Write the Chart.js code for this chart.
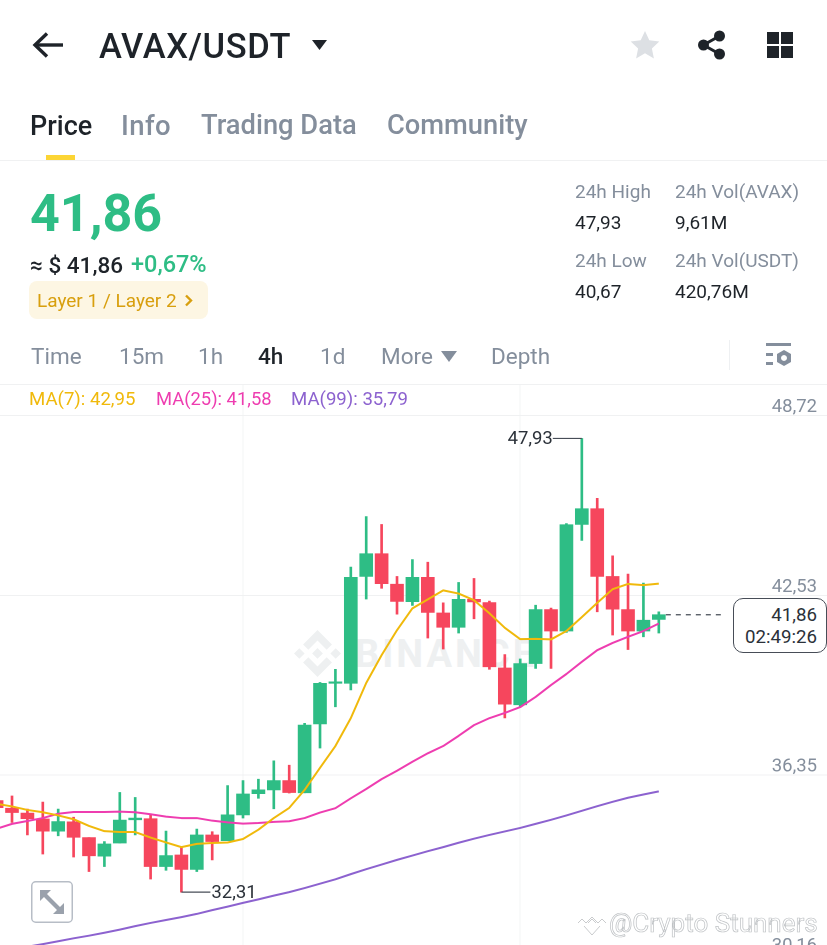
<!DOCTYPE html>
<html><head><meta charset="utf-8"><title>AVAX/USDT</title>
<script src="https://cdn.jsdelivr.net/npm/chart.js@4"></script>
<style>
html,body{margin:0;padding:0;background:#fff;overflow:hidden}
#page{position:relative;width:827px;height:945px;overflow:hidden;background:#fff;font-family:"Roboto",sans-serif;color:#1E2329}
#page span.t{position:absolute;white-space:nowrap;line-height:1;transform:translateY(-50%)}
.g{color:#848E9C}.up{color:#2EBD85}
canvas{position:absolute;left:0;top:0}
.abs{position:absolute}
</style></head><body>
<div id="page">
<!-- watermark under the chart -->
<svg class="abs" style="left:294px;top:630px" width="47" height="47" viewBox="0 0 126.61 126.61" fill="#EEF0F1"><path d="M38.73 53.2l24.59-24.58 24.6 24.6 14.3-14.31L63.32 0 24.42 38.9zM0 63.31l14.3-14.31 14.31 14.31-14.31 14.3zM38.73 73.41l24.59 24.59 24.6-24.6 14.31 14.29-38.9 38.91-38.91-38.88v-.03zM98.04 63.31l14.3-14.31 14.31 14.3-14.31 14.32zM77.83 63.3L63.32 48.78 52.59 59.51l-1.24 1.23-2.54 2.54 14.51 14.5 14.5-14.52z"/></svg>
<span class="t" style="left:355px;top:654px;font-size:38px;font-weight:700;letter-spacing:3px;color:#EEF0F1">BINANCE</span>

<canvas id="c" width="827" height="1000"></canvas>

<!-- header -->
<svg class="abs" style="left:32px;top:30px" width="32" height="30" viewBox="0 0 32 30" fill="none" stroke="#1E2329" stroke-width="3.4"><path d="M31 15H3"/><path d="M15 3.5L3 15l12 11.5"/></svg>
<span class="t" style="left:99px;top:46px;font-size:34.5px;font-weight:500;letter-spacing:.6px">AVAX/USDT</span>
<svg class="abs" style="left:312px;top:40px" width="15" height="10" viewBox="0 0 15 10"><path d="M0 0H15L7.5 10z" fill="#1E2329"/></svg>
<svg class="abs" style="left:630px;top:30px" width="30" height="30" viewBox="0 0 30 30"><path d="M15 1l4.3 9.3 10 1.2-7.4 6.9 2 10L15 23.3 6.100 28.400l2-10L.7 11.500l10-1.200z" fill="#DDE0E4"/></svg>
<svg class="abs" style="left:697px;top:30px" width="30" height="30" viewBox="0 0 30 30"><g fill="#1E2329"><circle cx="22.500" cy="6" r="5.500"/><circle cx="6.500" cy="15" r="5.500"/><circle cx="22.500" cy="24" r="5.500"/></g><path d="M22.500 6L6.500 15l16 9" stroke="#1E2329" stroke-width="3" fill="none"/></svg>
<svg class="abs" style="left:767px;top:32px" width="26" height="26" viewBox="0 0 26 26" fill="#1E2329"><rect width="12" height="12"/><rect x="14" width="12" height="12"/><rect y="14" width="12" height="12"/><rect x="14" y="14" width="12" height="12"/></svg>

<span class="t" style="left:30px;top:126px;font-size:27px;font-weight:500">Price</span>
<span class="t g" style="left:121px;top:126px;font-size:27.5px;font-weight:500;letter-spacing:.4px">Info</span>
<span class="t g" style="left:201px;top:126px;font-size:27.3px;font-weight:500">Trading Data</span>
<span class="t g" style="left:387px;top:126px;font-size:27.3px;font-weight:500">Community</span>
<div class="abs" style="left:46px;top:155px;width:29px;height:5px;background:#FCD535"></div>
<div class="abs" style="left:0;top:160px;width:827px;height:1px;background:#F0F1F2"></div>

<span class="t up" style="left:30px;top:214px;font-size:52px;font-weight:700">41,86</span>
<span class="t" style="left:30px;top:265px;font-size:22.5px;font-weight:500">≈ $ 41,86</span>
<span class="t up" style="left:131px;top:265px;font-size:23.5px;font-weight:500">+0,67%</span>
<div class="abs" style="left:29px;top:281px;width:179px;height:38px;border-radius:8px;background:#FDF6E3"></div>
<span class="t" style="left:37px;top:300px;font-size:19px;color:#D89F0E">Layer 1 / Layer 2</span>
<svg class="abs" style="left:184px;top:294px" width="9" height="13" viewBox="0 0 9 13" fill="none" stroke="#D89F0E" stroke-width="2.400"><path d="M2 1.500l5 5-5 5"/></svg>

<span class="t g" style="left:575px;top:191px;font-size:19px">24h High</span>
<span class="t" style="left:575px;top:222px;font-size:19px">47,93</span>
<span class="t g" style="left:575px;top:260px;font-size:19px">24h Low</span>
<span class="t" style="left:575px;top:291px;font-size:19px">40,67</span>
<span class="t g" style="left:675px;top:191px;font-size:19px">24h Vol(AVAX)</span>
<span class="t" style="left:675px;top:222px;font-size:19px">9,61M</span>
<span class="t g" style="left:675px;top:260px;font-size:19px">24h Vol(USDT)</span>
<span class="t" style="left:675px;top:291px;font-size:19px">420,76M</span>

<span class="t g" style="left:31px;top:356px;font-size:22.500px">Time</span>
<span class="t g" style="left:119px;top:356px;font-size:22.500px">15m</span>
<span class="t g" style="left:198px;top:356px;font-size:22.500px">1h</span>
<span class="t" style="left:258px;top:356px;font-size:22.500px;font-weight:500">4h</span>
<span class="t g" style="left:320px;top:356px;font-size:22.500px">1d</span>
<span class="t g" style="left:381px;top:356px;font-size:22.500px">More</span>
<svg class="abs" style="left:441px;top:351px" width="16" height="11" viewBox="0 0 16 11"><path d="M0 0H16L8 11z" fill="#848E9C"/></svg>
<span class="t g" style="left:491px;top:356px;font-size:22.500px">Depth</span>
<div class="abs" style="left:729px;top:340px;width:1px;height:30px;background:#EEF0F2"></div>
<svg class="abs" style="left:766px;top:343px" width="26" height="26" viewBox="0 0 26 26" fill="#848E9C"><rect width="25" height="3"/><rect y="10" width="7" height="3"/><rect y="19" width="7" height="3"/><path fill-rule="evenodd" d="M18 7l7 4v8l-7 4-7-4v-8zM18 12a3 3 0 1 0 .01 0z"/></svg>
<div class="abs" style="left:0;top:384px;width:827px;height:1px;background:#F0F1F2"></div>

<span class="t" style="left:29px;top:399px;font-size:18.6px;color:#F0B90B">MA(7): 42,95</span>
<span class="t" style="left:156px;top:399px;font-size:18.4px;color:#EE3DB0">MA(25): 41,58</span>
<span class="t" style="left:291px;top:399px;font-size:18.6px;color:#8C62CF">MA(99): 35,79</span>

<!-- price box -->
<div class="abs" style="left:733px;top:598px;width:92px;height:53px;border:1.500px solid #474D57;border-radius:10px;background:#fff"></div>
<span class="t" style="right:10px;top:615px;font-size:18.7px;color:#2B3139">41,86</span>
<span class="t" style="right:10px;top:637px;font-size:18.7px;color:#2B3139">02:49:26</span>

<!-- expand button -->
<svg class="abs" style="left:31px;top:881px" width="42" height="42" viewBox="0 0 42 42"><rect x=".75" y=".75" width="40.500" height="40.500" rx="4" fill="#fff" stroke="#B7BDC6" stroke-width="1.500"/><g fill="#9AA1AC"><path d="M9 9h11l-4 4 13 13 4-4v11H22l4-4-13-13-4 4z" /></g></svg>

<!-- bottom-right watermark -->
<svg class="abs" style="left:578px;top:914px" width="28" height="23" viewBox="0 0 28 23" fill="none" stroke="#C9CBCD" stroke-width="1"><path d="M0 9l4-4 4 4 6-6 6 6 4-4 4 4"/><path d="M6 12l8 9 8-9"/><path d="M10 9l4-4 4 4"/></svg>
<span class="t" style="left:609px;top:923px;font-size:26px;font-weight:400;color:#fff;-webkit-text-stroke:.7px #BFC2C5">@Crypto Stunners</span>
</div>
<script>
const candleIndex = [0,1,2,3,4,5,6,7,8,9,10,11,12,13,14,15,16,17,18,19,20,21,22,23,24,25,26,27,28,29,30,31,32,33,34,35,36,37,38,39,40,41,42,43];
const opens  = [35.46,35.20,35.03,34.83,34.41,34.73,34.19,33.55,34.00,34.80,34.84,33.19,33.59,33.09,34.28,34.08,34.97,35.70,35.83,36.15,35.73,38.10,39.50,39.50,43.18,43.96,42.91,42.31,43.15,41.92,41.43,42.39,42.28,40.03,38.76,40.18,42.04,41.30,44.97,45.51,43.18,42.04,41.30,41.70];
const highs  = [35.55,35.62,35.17,35.41,35.17,34.89,34.19,34.05,35.74,35.57,34.99,34.41,33.86,34.48,34.39,35.98,36.15,36.20,36.83,36.68,38.12,39.53,39.98,43.50,45.24,44.97,43.18,43.76,43.67,42.27,42.97,43.11,42.33,40.49,40.34,42.19,42.09,45.00,47.93,45.87,43.89,43.26,42.95,41.96];
const lows   = [35.07,34.71,34.28,33.62,34.25,33.52,33.02,33.19,34.00,34.28,32.76,33.06,32.31,33.02,33.42,34.08,34.86,35.54,35.18,35.72,35.73,37.27,38.69,39.27,42.40,42.77,41.88,42.18,41.06,40.68,41.23,41.72,39.98,38.31,38.68,40.01,40.01,41.25,44.42,41.96,41.16,40.66,41.10,41.23];
const closes = [35.22,35.05,34.84,34.41,34.74,34.20,33.56,33.97,34.79,34.86,33.19,33.57,33.09,34.28,34.05,34.97,35.69,35.83,36.15,35.74,38.06,39.50,39.55,43.15,43.96,42.93,42.32,43.15,41.94,41.43,42.39,42.30,40.07,38.78,40.18,42.04,41.30,44.96,45.51,43.18,42.05,41.30,41.67,41.86];
const ma7    = [35.35,35.26,35.14,35.06,34.95,34.82,34.59,34.41,34.38,34.38,34.19,34.02,33.86,33.97,34.00,34.02,34.14,34.46,34.86,35.21,35.83,36.59,37.34,38.30,39.51,40.47,41.33,42.08,42.39,42.70,42.59,42.36,41.91,41.41,41.02,41.03,41.01,41.30,41.78,42.27,42.74,42.92,42.88,42.93];
const ma25   = [34.49,34.66,34.76,34.86,35.01,35.07,35.07,35.07,35.08,35.06,34.99,34.91,34.86,34.86,34.77,34.71,34.67,34.69,34.73,34.75,34.86,35.05,35.20,35.54,35.86,36.20,36.49,36.80,37.09,37.34,37.69,38.06,38.30,38.48,38.68,39.03,39.44,39.82,40.24,40.64,40.89,41.10,41.30,41.56];
const ma99   = [30.23,30.33,30.43,30.52,30.62,30.72,30.81,30.91,31.02,31.14,31.25,31.35,31.45,31.56,31.69,31.81,31.94,32.06,32.19,32.31,32.45,32.60,32.75,32.93,33.10,33.26,33.42,33.57,33.72,33.86,34.01,34.15,34.28,34.40,34.52,34.66,34.80,34.95,35.11,35.27,35.42,35.56,35.67,35.78];
const priceTicks = [48.72,42.53,36.35,30.16];
const timeTicks = [16,34];
const lastPrice = 41.86;

const GREEN='#2EBD85', RED='#F6465D';
const colors = closes.map((c,i)=> c>=opens[i] ? GREEN : RED);
const comma = v => v.toFixed(2).replace('.',',');
const line = (data,color)=>({type:'line',data:data.map((y,i)=>({x:candleIndex[i],y})),borderColor:color,borderWidth:2,pointRadius:0,tension:0,order:1,borderJoinStyle:'round'});

const annotate = {
  id:'annotate',
  afterDatasetsDraw(chart){
    const {ctx,scales:{x,y}} = chart;
    ctx.save();
    ctx.font='18.5px Roboto, sans-serif';
    ctx.textBaseline='middle';
    const hiV=Math.max(...highs), hiI=highs.indexOf(hiV);
    const loV=Math.min(...lows), loI=lows.indexOf(loV);
    ctx.strokeStyle='#474D57'; ctx.lineWidth=1.2; ctx.fillStyle='#2B3139';
    const hx=x.getPixelForValue(candleIndex[hiI]), hy=y.getPixelForValue(hiV);
    ctx.beginPath(); ctx.moveTo(hx,hy); ctx.lineTo(hx-29,hy); ctx.stroke();
    ctx.textAlign='right'; ctx.fillText(comma(hiV),hx-29,hy+1);
    const lx=x.getPixelForValue(candleIndex[loI]), ly=y.getPixelForValue(loV);
    ctx.beginPath(); ctx.moveTo(lx,ly); ctx.lineTo(lx+29,ly); ctx.stroke();
    ctx.textAlign='left'; ctx.fillText(comma(loV),lx+30,ly+1);
    const py=y.getPixelForValue(lastPrice), px=x.getPixelForValue(candleIndex[candleIndex.length-1]);
    ctx.setLineDash([5,5]); ctx.strokeStyle='#474D57';
    ctx.beginPath(); ctx.moveTo(px+7,py); ctx.lineTo(725,py); ctx.stroke();
    ctx.restore();
  }
};

new Chart(document.getElementById('c'),{
  type:'bar',
  data:{datasets:[
    line(ma7,'#F0B90B'),
    line(ma25,'#EE3DB0'),
    line(ma99,'#8C62CF'),
    {type:'bar',data:opens.map((o,i)=>({x:candleIndex[i],y:[o,closes[i]]})),backgroundColor:colors,barThickness:13,grouped:false,order:2,borderSkipped:false},
    {type:'bar',data:lows.map((l,i)=>({x:candleIndex[i],y:[l,highs[i]]})),backgroundColor:colors,barThickness:2,grouped:false,order:3,borderSkipped:false}
  ]},
  options:{
    responsive:false,animation:false,
    devicePixelRatio:2,
    layout:{padding:{top:385,left:0,right:0,bottom:0}},
    plugins:{legend:{display:false},tooltip:{enabled:false}},
    events:[],
    scales:{
      x:{type:'linear',offset:false,min:0.2208,max:53.92,border:{display:false},
         grid:{offset:false,color:'#F3F4F5',lineWidth:1,drawTicks:false},
         afterBuildTicks:s=>{s.ticks=timeTicks.map(v=>({value:v}));},
         ticks:{display:false}},
      y:{type:'linear',position:'right',min:28.634,max:49.77,border:{display:false},
         grid:{color:'#F0F1F2',lineWidth:1,drawTicks:false},
         afterBuildTicks:s=>{s.ticks=priceTicks.map(v=>({value:v}));},
         ticks:{mirror:true,padding:-10,labelOffset:-8,color:'#848E9C',font:{family:'Roboto',size:18.5},callback:v=>comma(v)}}
    }
  },
  plugins:[annotate]
});
</script>
</body></html>
